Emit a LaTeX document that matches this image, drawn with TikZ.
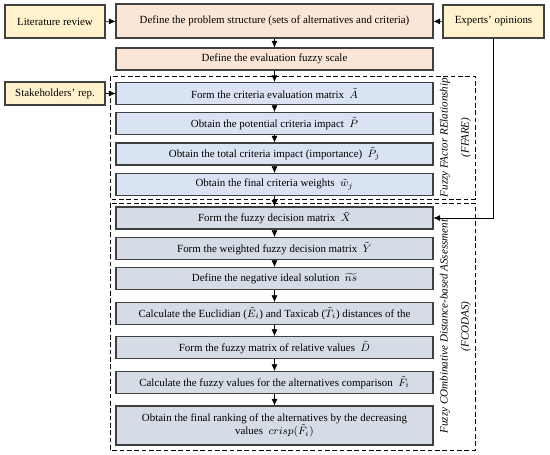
\documentclass[tikz,border=0pt]{standalone}
\usepackage{amsmath}
\usepackage{fontspec}
\setmainfont{Liberation Serif}
\usetikzlibrary{arrows.meta,positioning}
\definecolor{pinkbox}{RGB}{251,229,214}
\definecolor{yellowbox}{RGB}{255,242,204}
\definecolor{bluebox}{RGB}{218,227,243}
\definecolor{greybox}{RGB}{214,220,229}
\tikzset{
  procbox/.style  = {shape=rectangle, draw=black!75, line width=0.8pt,
                     align=center, inner sep=0pt,
                     minimum width=237.75pt, minimum height=16.5pt,
                     font=\fontsize{8.2}{10}\selectfont},
  topbox/.style   = {procbox, fill=pinkbox},
  inputbox/.style = {procbox, fill=yellowbox, minimum width=75pt},
  farebox/.style  = {procbox, fill=bluebox},
  codabox/.style  = {procbox, fill=greybox},
  region/.style   = {draw, dashed, line width=0.7pt, dash pattern=on 3.5pt off 2pt},
  sidelabel/.style= {rotate=90, font=\fontsize{8.3}{10}\selectfont\itshape}
}
\begin{document}
\begin{tikzpicture}[x=0.75pt, y=-0.75pt, >={Latex[length=5pt,width=4.5pt]}]
\useasboundingbox (0,0) rectangle (550,454);
% method regions
\draw[region] (110,76) rectangle (475,199);
\draw[region] (110,203) rectangle (475,450);
\node[sidelabel] (farename) at (445,137.5) {Fuzzy FActor RElationship};
\node[sidelabel] (fareabbr) at (466,137.5) {(FFARE)};
\node[sidelabel] (codaname) at (445,326.5) {Fuzzy COmbinative Distance-based ASsessment};
\node[sidelabel] (codaabbr) at (466,326.5) {(FCODAS)};
% inputs
\node[inputbox, minimum height=24.75pt] (lit) at (55,21.5) {Literature review};
\node[inputbox, minimum width=75.75pt, minimum height=24.75pt] (experts) at (493.5,21.5) {Experts' opinions};
\node[inputbox, minimum height=17.25pt] (stake) at (55,93.5) {Stakeholders' rep.};
% problem definition
\node[topbox, minimum height=25.5pt] (problem) at (274.5,21) {Define the problem structure (sets of alternatives and criteria)};
\node[topbox] (scale) at (274.5,59) {Define the evaluation fuzzy scale};
% FFARE
\node[farebox] (evalmat) at (274.5,93.5) {Form the criteria evaluation matrix \ $\tilde{A}$};
\node[farebox] (potimp) at (274.5,123.5) {Obtain the potential criteria impact \ $\tilde{P}$};
\node[farebox] (totimp) at (274.5,154) {Obtain the total criteria impact (importance) \ $\tilde{P}_j$};
\node[farebox] (weights) at (274.5,184.5) {Obtain the final criteria weights \ $\tilde{w}_j$};
% FCODAS
\node[codabox] (decmat) at (274.5,218) {Form the fuzzy decision matrix \ $\tilde{X}$};
\node[codabox] (wdecmat) at (274.5,248.5) {Form the weighted fuzzy decision matrix \ $\tilde{Y}$};
\node[codabox] (negideal) at (274.5,278.5) {Define the negative ideal solution \ $\widetilde{ns}$};
\node[codabox] (dist) at (274.5,313.5) {Calculate the Euclidian ($\tilde{E}_i$) and Taxicab ($\tilde{T}_i$) distances of the};
\node[codabox] (relval) at (274.5,347.5) {Form the fuzzy matrix of relative values \ $\tilde{D}$};
\node[codabox] (compar) at (274.5,382.5) {Calculate the fuzzy values for the alternatives comparison \ $\tilde{F}_i$};
\node[codabox, minimum height=29.25pt] (ranking) at (274.5,425.5) {Obtain the final ranking of the alternatives by the decreasing\\ values \ $crisp(\tilde{F}_i)$};
% connectors
\draw[->] (lit) -- (problem);
\draw[->] (experts) -- (problem);
\draw[->] (stake) -- (evalmat);
\draw[->] (experts.south) |- (decmat.east);
\foreach \from/\to in {problem/scale, scale/evalmat, evalmat/potimp, potimp/totimp,
  totimp/weights, weights/decmat, decmat/wdecmat, wdecmat/negideal, negideal/dist,
  dist/relval, relval/compar, compar/ranking}
  \draw[->] (\from) -- (\to);
\end{tikzpicture}
\end{document}
